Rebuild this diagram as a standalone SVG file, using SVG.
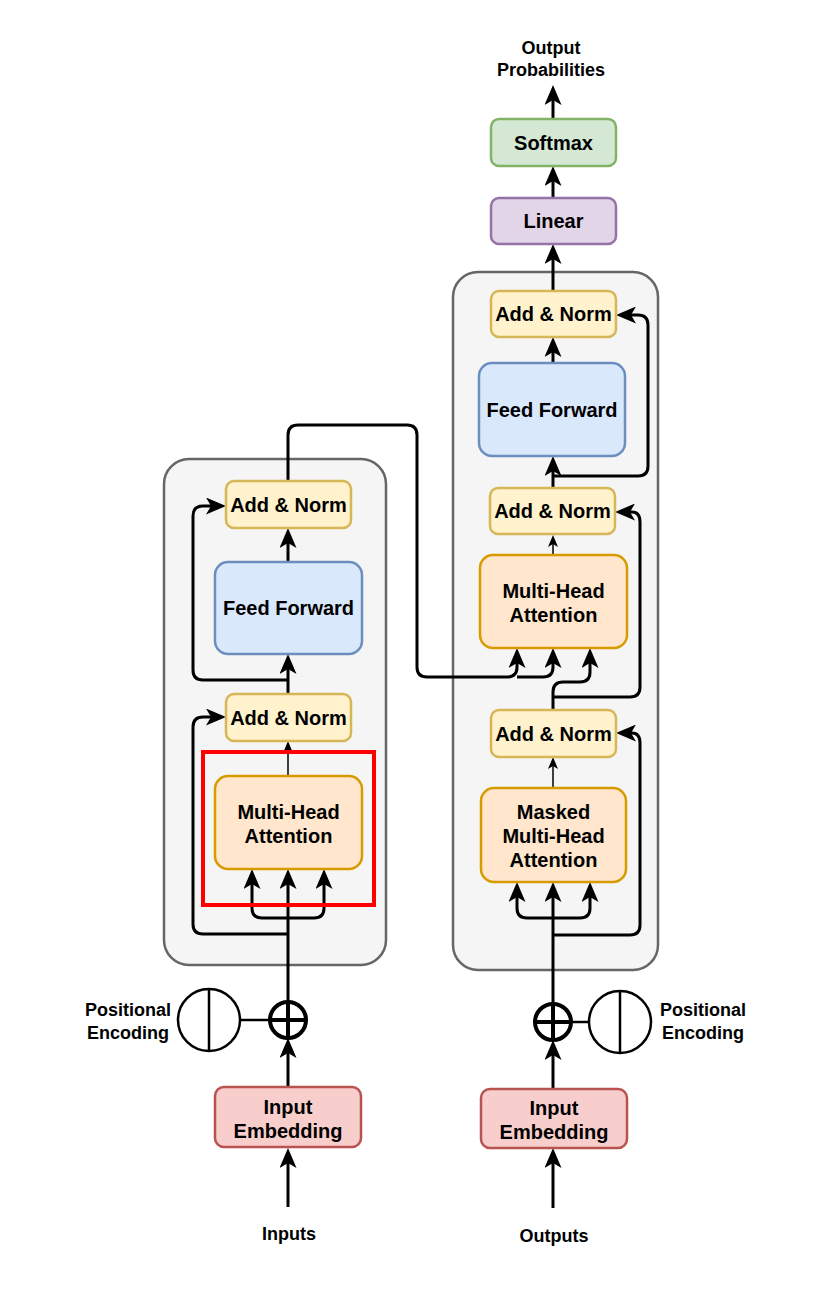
<svg xmlns="http://www.w3.org/2000/svg" width="840" height="1310" viewBox="0 0 840 1310">
<style>
.cont{fill:#f5f5f5;stroke:#666666;stroke-width:2.5}
.an{fill:#fff2cc;stroke:#d6b656;stroke-width:2.5}
.ff{fill:#dae8fc;stroke:#6c8ebf;stroke-width:2.5}
.mha{fill:#ffe6cc;stroke:#d79b00;stroke-width:2.5}
.emb{fill:#f8cecc;stroke:#b85450;stroke-width:2.5}
.lin{fill:#e1d5e7;stroke:#9673a6;stroke-width:2.5}
.sm{fill:#d5e8d4;stroke:#82b366;stroke-width:2.5}
.lbl{font-family:"Liberation Sans",Arial,sans-serif;font-weight:bold;font-size:20px;text-anchor:middle;fill:#000}
.sl{font-family:"Liberation Sans",Arial,sans-serif;font-weight:bold;font-size:18px;text-anchor:middle;fill:#000}
.c{fill:none;stroke:#000;stroke-width:3}
.ca{fill:none;stroke:#000;stroke-width:3;marker-end:url(#a)}
.ct{fill:none;stroke:#000;stroke-width:1.5;marker-end:url(#t)}
.circ{fill:#fff;stroke:#000;stroke-width:2.5}
.plus{fill:none;stroke:#000;stroke-width:4}
</style>
<defs>
<marker id="a" markerUnits="userSpaceOnUse" markerWidth="20" markerHeight="17" viewBox="0 0 20 17" refX="5" refY="8.5" orient="auto">
<path d="M0,0 L20,8.5 L0,17 L5,8.5 Z" fill="#000"/>
</marker>
<marker id="t" markerUnits="userSpaceOnUse" markerWidth="12" markerHeight="10" viewBox="0 0 12 10" refX="3" refY="5" orient="auto">
<path d="M0,0 L12,5 L0,10 L3,5 Z" fill="#000"/>
</marker>
</defs>

<g id="encoder-container"><rect class="cont" x="164" y="459" width="222" height="506" rx="25"/></g>
<g id="decoder-container"><rect class="cont" x="453" y="272" width="205" height="698" rx="25"/></g>

<g id="connectors">
<!-- encoder -->
<path class="ca" d="M288,1207 V1163"/>
<path class="ca" d="M288,1087 V1053"/>
<path class="ca" d="M288,1002 V884"/>
<path class="ca" d="M288,918 H262 Q252,918 252,908 V884"/>
<path class="ca" d="M288,918 H314 Q324,918 324,908 V884"/>
<path class="ca" d="M288,934 H203 Q193,934 193,924 V727 Q193,717 203,717 H211"/>
<path class="ct" d="M288,776 V750"/>
<path class="ca" d="M288,694 V669"/>
<path class="ca" d="M288,680 H203 Q193,680 193,670 V516 Q193,506 203,506 H211"/>
<path class="ca" d="M288,562 V543"/>
<path class="ca" d="M288,481 V435 Q288,425 298,425 H407 Q417,425 417,435 V667 Q417,677 427,677 H507 Q517,677 517,667 V663"/>
<path class="ca" d="M517,677 H543 Q553,677 553,667 V663"/>
<!-- decoder -->
<path class="ca" d="M553,1208 V1163"/>
<path class="ca" d="M553,1089 V1055"/>
<path class="ca" d="M553,1004 V897"/>
<path class="ca" d="M553,918 H527 Q517,918 517,908 V897"/>
<path class="ca" d="M553,918 H580 Q590,918 590,908 V897"/>
<path class="ca" d="M553,935 H630 Q640,935 640,925 V743 Q640,733 632,733 H631"/>
<path class="ct" d="M553,788 V766"/>
<path class="ca" d="M553,710 V692 Q553,682 563,682 H580 Q590,682 590,672 V663"/>
<path class="ca" d="M553,697 H630 Q640,697 640,687 V522 Q640,512 632,512 H630"/>
<path class="ct" d="M553,555 V544"/>
<path class="ca" d="M553,488 V471"/>
<path class="ca" d="M553,476 H638 Q648,476 648,466 V325 Q648,315 638,315 H631"/>
<path class="ca" d="M553,363 V352"/>
<path class="ca" d="M553,291 V259"/>
<path class="ca" d="M553,198 V181"/>
<path class="ca" d="M553,119 V100"/>
<!-- positional encoding links -->
<path class="c" d="M240,1020 H270" style="stroke-width:2.5"/>
<path class="c" d="M571,1022 H589" style="stroke-width:2.5"/>
</g>

<g id="enc-addnorm-top"><rect class="an" x="226" y="481" width="125" height="47" rx="8"/><text class="lbl" x="288.5" y="512">Add &amp; Norm</text></g>
<g id="enc-ff"><rect class="ff" x="215" y="562" width="147" height="92" rx="13"/><text class="lbl" x="288.5" y="615">Feed Forward</text></g>
<g id="enc-addnorm-bottom"><rect class="an" x="226" y="694" width="125" height="47" rx="8"/><text class="lbl" x="288.5" y="725">Add &amp; Norm</text></g>
<g id="enc-mha"><rect class="mha" x="215" y="776" width="147" height="93" rx="13"/><text class="lbl" x="288.5" y="819">Multi-Head</text><text class="lbl" x="288.5" y="843">Attention</text></g>
<g id="highlight"><rect x="203" y="752" width="171" height="153" fill="none" stroke="#ff0000" stroke-width="4"/></g>

<g id="enc-plus"><circle class="plus" cx="288" cy="1020" r="18" fill="#fff"/><path class="plus" d="M270,1020 H306 M288,1002 V1038"/></g>
<g id="enc-pe"><circle class="circ" cx="209" cy="1020" r="31"/><path d="M209,989 V1051" stroke="#000" stroke-width="2.5"/><text class="sl" x="128" y="1016">Positional</text><text class="sl" x="128" y="1039">Encoding</text></g>
<g id="enc-emb"><rect class="emb" x="215" y="1087" width="146" height="60" rx="9"/><text class="lbl" x="288" y="1114">Input</text><text class="lbl" x="288" y="1138">Embedding</text></g>
<g id="inputs"><text class="sl" x="289" y="1240">Inputs</text></g>

<g id="dec-addnorm-top"><rect class="an" x="491" y="291" width="125" height="46" rx="8"/><text class="lbl" x="553.5" y="321">Add &amp; Norm</text></g>
<g id="dec-ff"><rect class="ff" x="479" y="363" width="146" height="93" rx="13"/><text class="lbl" x="552" y="417">Feed Forward</text></g>
<g id="dec-addnorm-mid"><rect class="an" x="490" y="488" width="125" height="46" rx="8"/><text class="lbl" x="552.5" y="518">Add &amp; Norm</text></g>
<g id="dec-mha"><rect class="mha" x="480" y="555" width="147" height="93" rx="13"/><text class="lbl" x="553.5" y="598">Multi-Head</text><text class="lbl" x="553.5" y="622">Attention</text></g>
<g id="dec-addnorm-low"><rect class="an" x="491" y="710" width="125" height="47" rx="8"/><text class="lbl" x="553.5" y="741">Add &amp; Norm</text></g>
<g id="dec-masked"><rect class="mha" x="481" y="788" width="145" height="94" rx="13"/><text class="lbl" x="553.5" y="819">Masked</text><text class="lbl" x="553.5" y="843">Multi-Head</text><text class="lbl" x="553.5" y="867">Attention</text></g>
<g id="dec-plus"><circle class="plus" cx="553" cy="1022" r="18" fill="#fff"/><path class="plus" d="M535,1022 H571 M553,1004 V1040"/></g>
<g id="dec-pe"><circle class="circ" cx="620" cy="1022" r="31"/><path d="M620,991 V1053" stroke="#000" stroke-width="2.5"/><text class="sl" x="703" y="1016">Positional</text><text class="sl" x="703" y="1039">Encoding</text></g>
<g id="dec-emb"><rect class="emb" x="481" y="1089" width="146" height="59" rx="9"/><text class="lbl" x="554" y="1115">Input</text><text class="lbl" x="554" y="1139">Embedding</text></g>
<g id="outputs"><text class="sl" x="554" y="1242">Outputs</text></g>

<g id="linear"><rect class="lin" x="491" y="198" width="125" height="46" rx="8"/><text class="lbl" x="553.5" y="228">Linear</text></g>
<g id="softmax"><rect class="sm" x="491" y="119" width="125" height="47" rx="8"/><text class="lbl" x="553.5" y="150">Softmax</text></g>
<g id="output-probs"><text class="sl" x="551" y="54">Output</text><text class="sl" x="551" y="76">Probabilities</text></g>
</svg>
